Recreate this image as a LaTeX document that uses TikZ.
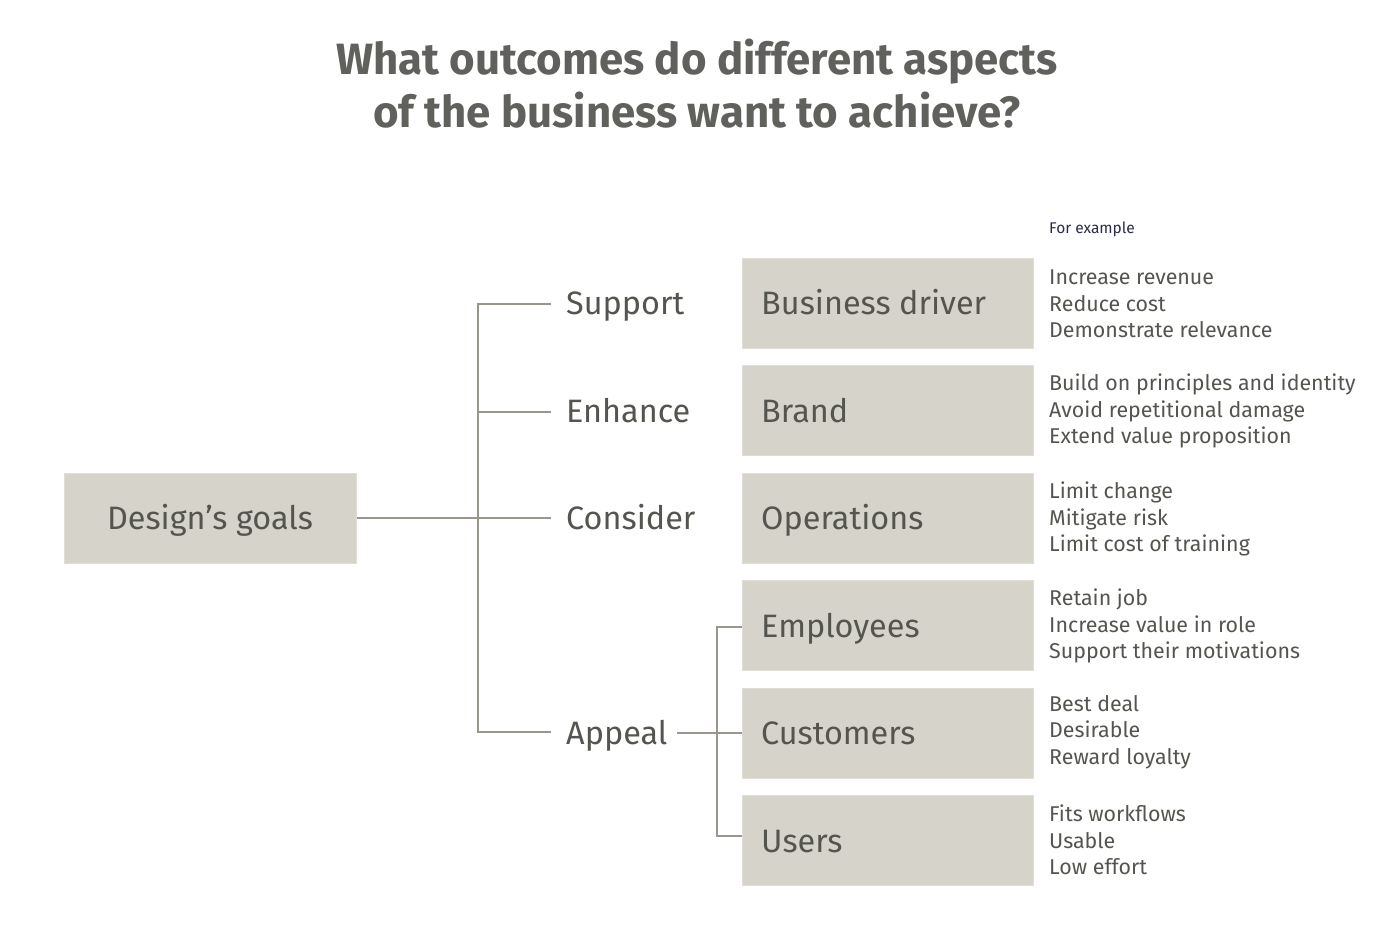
\documentclass[tikz,border=0pt]{standalone}
\usepackage{fontspec}
\setmainfont{Fira Sans}
\definecolor{boxfill}{RGB}{214,211,203}
\definecolor{boxedge}{RGB}{224,222,215}
\definecolor{linec}{RGB}{155,150,141}
\definecolor{txt}{RGB}{85,85,80}
\definecolor{ttl}{RGB}{96,96,92}
\definecolor{navy}{RGB}{40,44,72}
\begin{document}
\begin{tikzpicture}[x=1pt,y=-1pt,
  gbox/.style={draw=boxedge,line width=0.8pt,fill=boxfill,minimum width=291pt,minimum height=90pt,anchor=north west,inner sep=0pt},
  boxtxt/.style={text=txt,font=\fontsize{32.4}{36}\selectfont,text height=22.3pt,text depth=0pt,inner sep=0pt},
  lab/.style={text=txt,font=\fontsize{32.4}{36}\selectfont,anchor=west,inner sep=0pt,text height=22.3pt,text depth=0pt},
  ex/.style={text=txt,font=\fontsize{21.4}{26.6}\selectfont,anchor=west,align=left,inner sep=0pt},
  conn/.style={draw=linec,line width=2.2pt}]
\useasboundingbox (0,0) rectangle (1400,935);
\fill[white] (0,0) rectangle (1400,935);
% title
\node[text=ttl,font=\fontsize{43.8}{53}\selectfont\bfseries,align=center] (title) at (697,84) {What outcomes do different aspects\\of the business want to achieve?};
% main box
\node[gbox,minimum width=292pt] (dg) at (64,473) {};
\node[boxtxt] (dgt) at (210,518) {Design’s goals};
% right boxes
\node[gbox] (bd) at (742,258) {};
\node[gbox] (br) at (742,365) {};
\node[gbox] (op) at (742,473) {};
\node[gbox] (em) at (742,580) {};
\node[gbox] (cu) at (742,688) {};
\node[gbox] (us) at (742,795) {};
\node[lab] (bdt) at (761,303) {Business driver};
\node[lab] (brt) at (761,411) {Brand};
\node[lab] (opt) at (761,518) {Operations};
\node[lab] (emt) at (761,626) {Employees};
\node[lab] (cut) at (761,733) {Customers};
\node[lab] (ust) at (761,841) {Users};
% verbs
\node[lab] (sup) at (566,303) {Support};
\node[lab] (enh) at (566,411) {Enhance};
\node[lab] (con) at (566,518) {Consider};
\node[lab] (app) at (566,733) {Appeal};
% connector points
\coordinate (j) at (478,518);
\coordinate (j1) at (478,304);
\coordinate (j2) at (478,412);
\coordinate (j4) at (478,732);
\coordinate (e1) at (551,304);
\coordinate (e2) at (551,412);
\coordinate (e3) at (551,518);
\coordinate (e4) at (551,732);
\draw[conn] (dg.east |- j) -- (e3);
\draw[conn] (e1) -- (j1) -- (j4) -- (e4);
\draw[conn] (j2) -- (e2);
\coordinate (a0) at (677,733);
\coordinate (k) at (717,733);
\coordinate (k1) at (717,627);
\coordinate (k3) at (717,836);
\draw[conn] (a0) -- (cu.west |- k);
\draw[conn] (em.west |- k1) -- (k1) -- (k3) -- (us.west |- k3);
% examples
\node[text=navy,font=\fontsize{15.5}{18}\selectfont,anchor=west,inner sep=0pt] (fe) at (1049,229) {For example};
\node[ex] (x1) at (1049,304) {Increase revenue\\Reduce cost\\Demonstrate relevance};
\node[ex] (x2) at (1049,411) {Build on principles and identity\\Avoid repetitional damage\\Extend value proposition};
\node[ex] (x3) at (1049,519) {Limit change\\Mitigate risk\\Limit cost of training};
\node[ex] (x4) at (1049,626) {Retain job\\Increase value in role\\Support their motivations};
\node[ex] (x5) at (1049,732) {Best deal\\Desirable\\Reward loyalty};
\node[ex] (x6) at (1049,840) {Fits workflows\\Usable\\Low effort};
\end{tikzpicture}
\end{document}
